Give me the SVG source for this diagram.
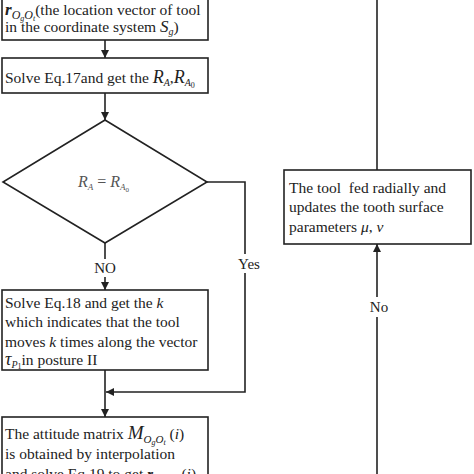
<svg xmlns="http://www.w3.org/2000/svg" width="474" height="474" viewBox="0 0 474 474">
<style>
.box{fill:#fff;stroke:#222;stroke-width:1.6}
.ln{fill:none;stroke:#222;stroke-width:1.6}
.t{font-family:"Liberation Serif","Times New Roman",serif;font-size:15.5px;fill:#222}
.i{font-style:italic}
.lbl{font-family:"Liberation Serif","Times New Roman",serif;font-size:15px;fill:#222}
</style>
<defs>
<marker id="ah" viewBox="0 0 10 10" refX="10" refY="5" markerWidth="8" markerHeight="8" markerUnits="userSpaceOnUse" orient="auto">
<path d="M0,0 L10,5 L0,10 z" fill="#222"/>
</marker>
</defs>
<rect width="474" height="474" fill="#fff"/>
<g id="connectors">
<line class="ln" x1="105" y1="40" x2="105" y2="58" marker-end="url(#ah)"/>
<line class="ln" x1="105" y1="93" x2="105" y2="120" marker-end="url(#ah)"/>
<polyline class="ln" points="105,243 105,259"/>
<line class="ln" x1="105" y1="277" x2="105" y2="290" marker-end="url(#ah)"/>
<polyline class="ln" points="207,182 245,182 245,254"/>
<polyline class="ln" points="245,273 245,392 106,392" marker-end="url(#ah)"/>
<line class="ln" x1="105" y1="370" x2="105" y2="417" marker-end="url(#ah)"/>
<line class="ln" x1="377" y1="0" x2="377" y2="170"/>
<line class="ln" x1="377" y1="474" x2="377" y2="317"/>
<line class="ln" x1="377" y1="297" x2="377" y2="244" marker-end="url(#ah)"/>
<text class="lbl" x="105" y="273" text-anchor="middle">NO</text>
<text class="lbl" x="249" y="269" text-anchor="middle">Yes</text>
<text class="lbl" x="379" y="312" text-anchor="middle">No</text>
</g>
<g id="node-location">
<rect class="box" x="2" y="-10" width="206" height="50"/>
<text class="t" x="5" y="15"><tspan class="i" font-weight="bold" font-size="17">r</tspan><tspan class="i" font-size="12" dy="4">O</tspan><tspan class="i" font-size="8" dy="2">g</tspan><tspan class="i" font-size="12" dy="-2">O</tspan><tspan class="i" font-size="8" dy="2">t</tspan><tspan dy="-6">(the location vector of tool</tspan></text>
<text class="t" x="5" y="32">in the coordinate system <tspan class="i" font-size="17">S</tspan><tspan class="i" font-size="10" dy="3">g</tspan><tspan dy="-3">)</tspan></text>
</g>
<g id="node-solve17">
<rect class="box" x="2" y="58" width="206" height="35"/>
<text class="t" x="5" y="83">Solve Eq.17and get the <tspan class="i" font-size="18">R</tspan><tspan class="i" font-size="10" dy="3">A</tspan><tspan dy="-3">,</tspan><tspan class="i" font-size="18">R</tspan><tspan class="i" font-size="10" dy="3">A</tspan><tspan font-size="8" dy="2">0</tspan></text>
</g>
<g id="node-decision">
<polygon class="box" points="105,120 207,182 105,243 3,182"/>
<text x="78" y="187" font-family="Liberation Serif, serif" font-size="16" fill="#555"><tspan class="i">R</tspan><tspan class="i" font-size="9" dy="3">A</tspan><tspan dy="-3"> = </tspan><tspan class="i">R</tspan><tspan class="i" font-size="9" dy="3">A</tspan><tspan font-size="7" dy="2">0</tspan></text>
</g>
<g id="node-solve18">
<rect class="box" x="2" y="290" width="206" height="80"/>
<text class="t" x="5" y="308">Solve Eq.18 and get the <tspan class="i">k</tspan></text>
<text class="t" x="5" y="327">which indicates that the tool</text>
<text class="t" x="5" y="347">moves <tspan class="i">k</tspan> times along the vector</text>
<text class="t" x="5" y="365"><tspan class="i" font-size="18">τ</tspan><tspan class="i" font-size="10" dy="3">P</tspan><tspan font-size="8" dy="1">1</tspan><tspan dy="-4">in posture II</tspan></text>
</g>
<g id="node-attitude">
<rect class="box" x="2" y="417" width="206" height="70"/>
<text class="t" x="5" y="439">The attitude matrix <tspan class="i" font-size="19">M</tspan><tspan class="i" font-size="11" dy="4">O</tspan><tspan class="i" font-size="8" dy="2">g</tspan><tspan class="i" font-size="11" dy="-2">O</tspan><tspan class="i" font-size="8" dy="2">t</tspan><tspan dy="-6"> (</tspan><tspan class="i">i</tspan>)</text>
<text class="t" x="5" y="459">is obtained by interpolation</text>
<text class="t" x="5" y="479">and solve Eq.19 to get <tspan class="i" font-weight="bold">r</tspan><tspan class="i" font-size="11" dy="3">OgOt</tspan><tspan dy="-3"> (</tspan><tspan class="i">i</tspan>)</text>
</g>
<g id="node-feed">
<rect class="box" x="284" y="170" width="187" height="74"/>
<text class="t" x="289" y="193" xml:space="preserve">The tool  fed radially and</text>
<text class="t" x="289" y="212">updates the tooth surface</text>
<text class="t" x="289" y="232">parameters <tspan class="i">μ</tspan>, <tspan class="i">ν</tspan></text>
</g>
</svg>
